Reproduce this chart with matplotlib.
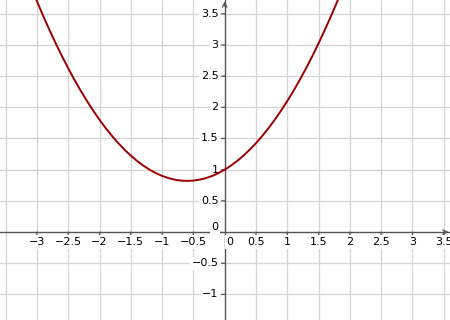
import matplotlib
matplotlib.use("Agg")
import matplotlib.pyplot as plt

# values
x_vals = [-3.1, -3.0, -2.9, -2.8, -2.7, -2.6, -2.5, -2.4, -2.3, -2.2, -2.1, -2.0,
          -1.9, -1.8, -1.7, -1.6, -1.5, -1.4, -1.3, -1.2, -1.1, -1.0, -0.9, -0.8,
          -0.7, -0.6, -0.5, -0.4, -0.3, -0.2, -0.1, 0.0, 0.1, 0.2, 0.3, 0.4, 0.5,
          0.6, 0.7, 0.8, 0.9, 1.0, 1.1, 1.2, 1.3, 1.4, 1.5, 1.6, 1.7, 1.8, 1.9]
y_vals = [3.945, 3.700, 3.465, 3.240, 3.025, 2.820, 2.625, 2.440, 2.265, 2.100, 1.945, 1.800,
          1.665, 1.540, 1.425, 1.320, 1.225, 1.140, 1.065, 1.000, 0.945, 0.900, 0.865, 0.840,
          0.825, 0.820, 0.825, 0.840, 0.865, 0.900, 0.945, 1.000, 1.065, 1.140, 1.225, 1.320, 1.425,
          1.540, 1.665, 1.800, 1.945, 2.100, 2.265, 2.440, 2.625, 2.820, 3.025, 3.240, 3.465, 3.700, 3.945]

x_ticks = [-3, -2.5, -2, -1.5, -1, -0.5, 0.5, 1, 1.5, 2, 2.5, 3, 3.5]
x_tick_labels = ["−3", "−2.5", "−2", "−1.5", "−1", "−0.5", "0.5", "1", "1.5", "2", "2.5", "3", "3.5"]
y_ticks = [3.5, 3, 2.5, 2, 1.5, 1, 0.5, -0.5, -1]
y_tick_labels = ["3.5", "3", "2.5", "2", "1.5", "1", "0.5", "−0.5", "−1"]

fig = plt.figure(figsize=(4.5, 3.2), dpi=100)
ax = fig.add_axes([0, 0, 1, 1])
xmin, xmax = -3.59, 3.60
ymin, ymax = -1.41, 3.72
ax.set_xlim(xmin, xmax)
ax.set_ylim(ymin, ymax)
for s in ax.spines.values():
    s.set_visible(False)
ax.set_xticks([])
ax.set_yticks([])

grid_c = "#d4d4d4"
gx = [-3.5 + 0.5 * i for i in range(15)]
gy = [-1.0 + 0.5 * i for i in range(10)]
for g in gx:
    if g != 0:
        ax.axvline(g, color=grid_c, lw=0.9, zorder=0)
for g in gy:
    if g != 0:
        ax.axhline(g, color=grid_c, lw=0.9, zorder=0)

axis_c = "#555555"
ax.axhline(0, color=axis_c, lw=1.0, zorder=2)
ax.axvline(0, color=axis_c, lw=1.0, zorder=2)

# arrow heads
ax.annotate("", xy=(xmax, 0), xytext=(-6, 0), textcoords="offset pixels",
            xycoords="data", arrowprops=dict(arrowstyle="->", color=axis_c, lw=0.9,
                                               mutation_scale=8, shrinkA=0, shrinkB=1),
            zorder=3)
ax.annotate("", xy=(0, ymax), xytext=(0, -6), textcoords="offset pixels",
            xycoords="data", arrowprops=dict(arrowstyle="->", color=axis_c, lw=0.9,
                                               mutation_scale=8, shrinkA=0, shrinkB=1),
            zorder=3)

# small ticks on axes
for t in y_ticks:
    ax.annotate("", xy=(0, t), xytext=(-3, 0), textcoords="offset pixels",
                arrowprops=dict(arrowstyle="-", color=axis_c, lw=0.9, shrinkA=0, shrinkB=0))
for t in x_ticks:
    ax.annotate("", xy=(t, 0), xytext=(0, -3), textcoords="offset pixels",
                arrowprops=dict(arrowstyle="-", color=axis_c, lw=0.9, shrinkA=0, shrinkB=0))

fs = 8
bb = dict(boxstyle="square,pad=0.15", fc="white", ec="none")
for t, lab in zip(x_ticks, x_tick_labels):
    ax.annotate(lab, xy=(t, 0), xytext=(0, -10), textcoords="offset pixels",
                ha="center", va="center", fontsize=fs, color="black", bbox=bb, zorder=4)
for t, lab in zip(y_ticks, y_tick_labels):
    ax.annotate(lab, xy=(0, t), xytext=(-6, 0), textcoords="offset pixels",
                ha="right", va="center", fontsize=fs, color="black", bbox=bb, zorder=4)
ax.annotate("0", xy=(0, 0), xytext=(-6, 5), textcoords="offset pixels",
            ha="right", va="center", fontsize=fs, color="black", bbox=bb, zorder=4)
ax.annotate("0", xy=(0, 0), xytext=(2, -10), textcoords="offset pixels",
            ha="left", va="center", fontsize=fs, color="black", bbox=bb, zorder=4)

ax.plot(x_vals, y_vals, color="#990000", lw=1.4, zorder=5, solid_capstyle="round")

fig.savefig("out.png", dpi=100)
